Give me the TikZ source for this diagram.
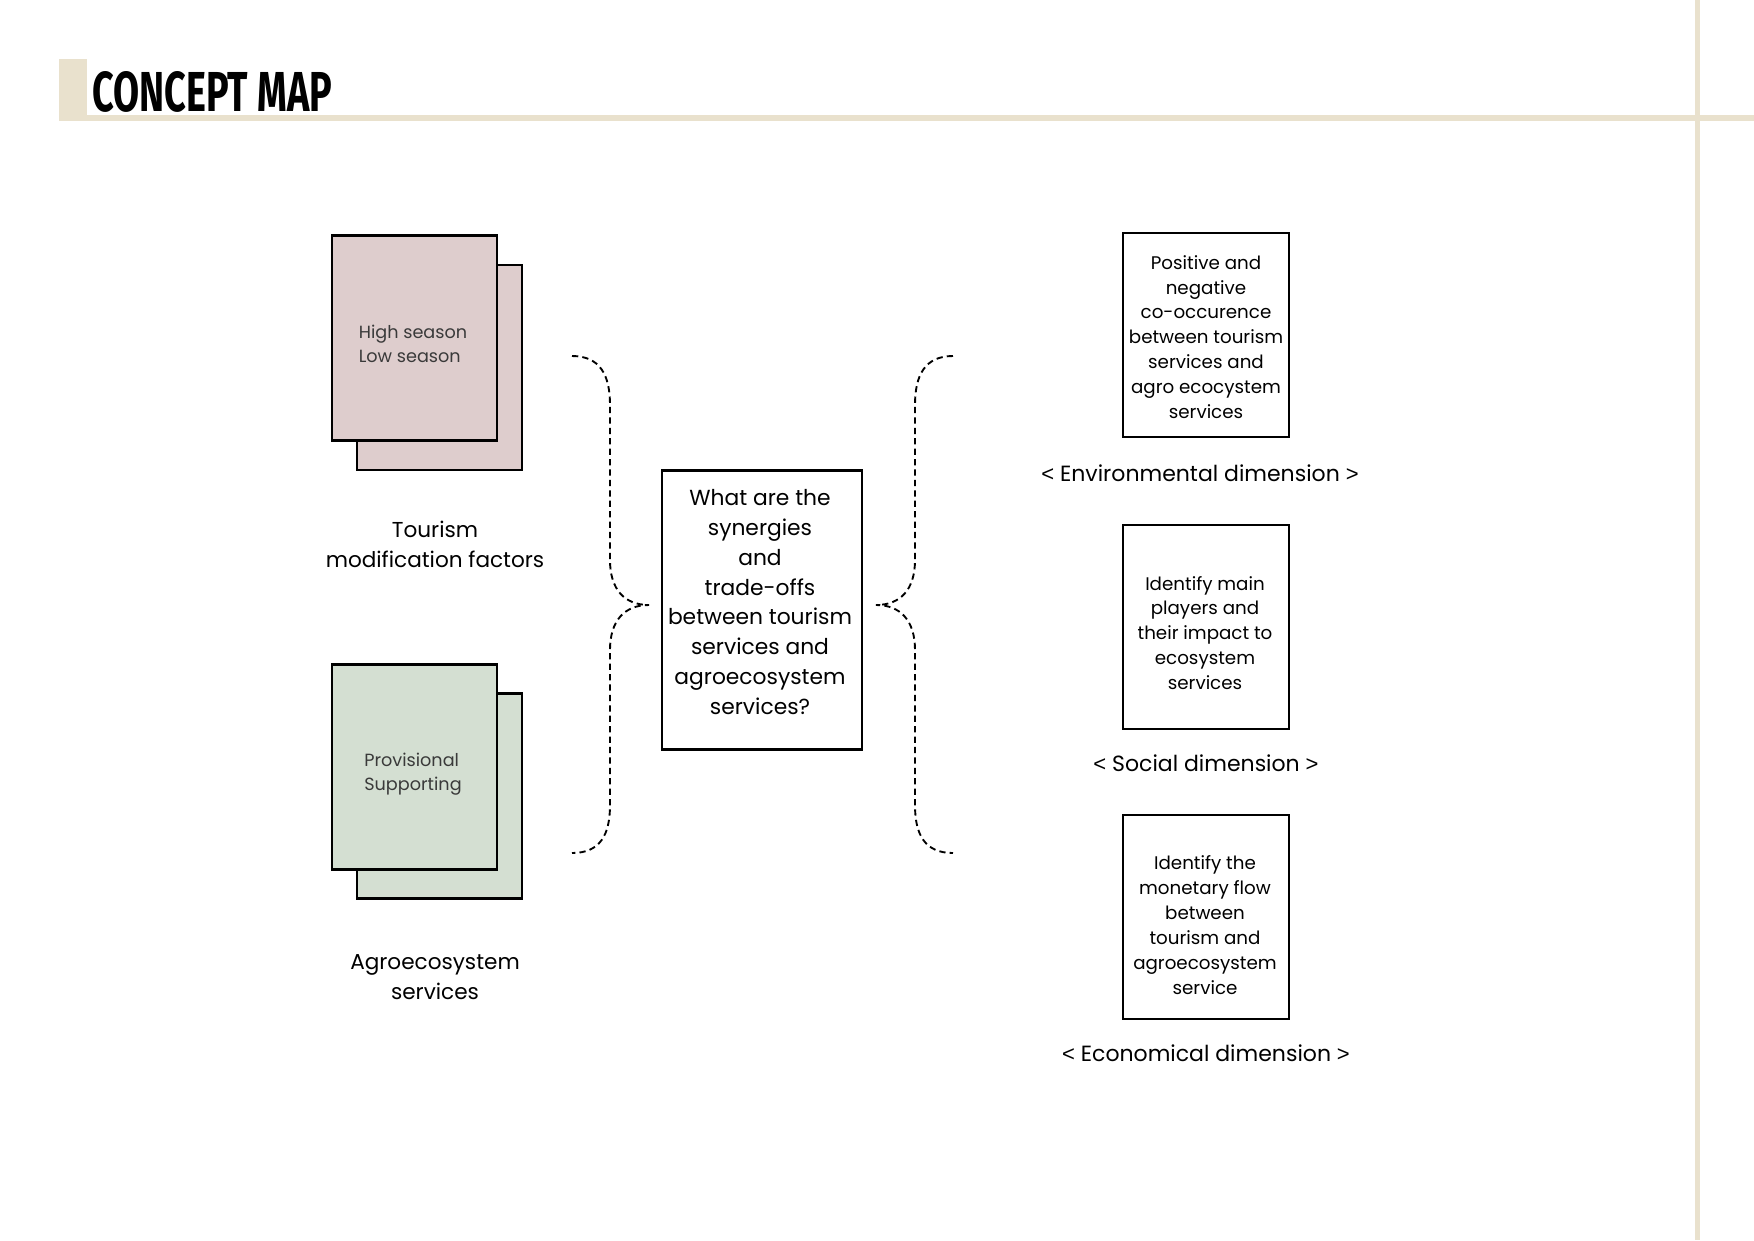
\documentclass[tikz,border=0pt]{standalone}
\usepackage{fontspec}
\setmainfont{Poppins}
\newfontfamily\titlefont{Fira Sans}
\newfontfamily\ltgtfont{Liberation Sans}
\definecolor{beige}{HTML}{E9E1CD}
\definecolor{pinkfill}{HTML}{DECDCD}
\definecolor{greenfill}{HTML}{D4DFD2}
\definecolor{cardtext}{HTML}{3A3A3A}
\newcommand\lsym{{\ltgtfont\char`<}}
\newcommand\gsym{{\ltgtfont\char`>}}
\tikzset{
  card/.style={draw=black, line width=1.1bp, minimum width=79.2bp, minimum height=98.4bp, inner sep=0pt},
  pinkcard/.style={card, fill=pinkfill},
  greencard/.style={card, fill=greenfill},
  cardlabel/.style={align=left, text=cardtext, font=\fontsize{8.5}{11.8}\selectfont, inner sep=0pt},
  qbox/.style={draw=black, line width=1.1bp, fill=white, inner sep=0pt},
  dimbox/.style={qbox, minimum width=79.7bp, minimum height=97.9bp},
  dimtext/.style={align=center, inner sep=0pt, font=\fontsize{8.8}{12}\selectfont},
  grouplabel/.style={align=center, inner sep=0pt, font=\fontsize{10.4}{14.4}\selectfont},
  dimlabel/.style={inner sep=0pt, font=\fontsize{10.6}{12}\selectfont},
  bracepath/.style={draw=black, dash pattern=on 3bp off 2bp, line width=0.9bp}
}
\begin{document}
\begin{tikzpicture}[x=0.48bp, y=-0.48bp]
\useasboundingbox (0,0) rectangle (1754,1240);
% header decoration
\fill[beige] (59,59) rectangle (87,121);
\fill[beige] (87,115) rectangle (1754,121);
\fill[beige] (1695,0) rectangle (1700,1240);
\node[anchor=base west, inner sep=0pt] (title) at (92,111)
  {\resizebox{115bp}{19.2bp}{\titlefont\bfseries CONCEPT MAP}};

% tourism cards
\node[pinkcard] (tback) at (439.5,367.5) {};
\node[pinkcard] (tfront) at (414.5,338) {};
\node[cardlabel] (tfronttext) at (413,344) {High season\\Low season};
\node[grouplabel] (tlabel) at (435,544) {Tourism\\modification factors};

% agro cards
\node[greencard] (aback) at (439.5,796) {};
\node[greencard] (afront) at (414.5,767) {};
\node[cardlabel] (afronttext) at (413,774) {Provisional\\Supporting};
\node[grouplabel] (alabel) at (435,977) {Agroecosystem\\services};

% central question
\node[qbox, minimum width=96bp, minimum height=133.9bp] (q) at (762,610) {};
\node[align=center, inner sep=0pt, font=\fontsize{10.5}{14.4}\selectfont] (qtext) at (760,602)
  {What are the\\synergies\\and\\trade-offs\\between tourism\\services and\\agroecosystem\\services?};

% dimension boxes
\node[dimbox] (env) at (1206,335) {};
\node[dimtext] (envtext) at (1206,337) {Positive and\\negative\\co-occurence\\between tourism\\services and\\agro ecocystem\\services};
\node[dimlabel] (envlabel) at (1200,473) {\lsym{} Environmental dimension \gsym};
\node[dimbox] (soc) at (1206,627) {};
\node[dimtext] (soctext) at (1205,633) {Identify main\\players and\\their impact to\\ecosystem\\services};
\node[dimlabel] (soclabel) at (1206,763) {\lsym{} Social dimension \gsym};
\node[dimbox] (eco) at (1206,917) {};
\node[dimtext] (ecotext) at (1205,925) {Identify the\\monetary flow\\between\\tourism and\\agroecosystem\\service};
\node[dimlabel] (ecolabel) at (1206,1053) {\lsym{} Economical dimension \gsym};

% braces
\coordinate (lbtop) at (572,356);
\coordinate (lbtip) at (649,605);
\coordinate (lbbot) at (572,853);
\coordinate (rbtop) at (953,356);
\coordinate (rbtip) at (876,605);
\coordinate (rbbot) at (953,853);
\path[bracepath] (lbtop) .. controls (600,356) and (610,375) .. (610,405)
  -- (610,560) .. controls (610,590) and (625,605) .. (lbtip)
  .. controls (625,605) and (610,620) .. (610,650)
  -- (610,805) .. controls (610,835) and (600,853) .. (lbbot);
\path[bracepath] (rbtop) .. controls (925,356) and (915,375) .. (915,405)
  -- (915,560) .. controls (915,590) and (900,605) .. (rbtip)
  .. controls (900,605) and (915,620) .. (915,650)
  -- (915,805) .. controls (915,835) and (925,853) .. (rbbot);
\end{tikzpicture}
\end{document}
